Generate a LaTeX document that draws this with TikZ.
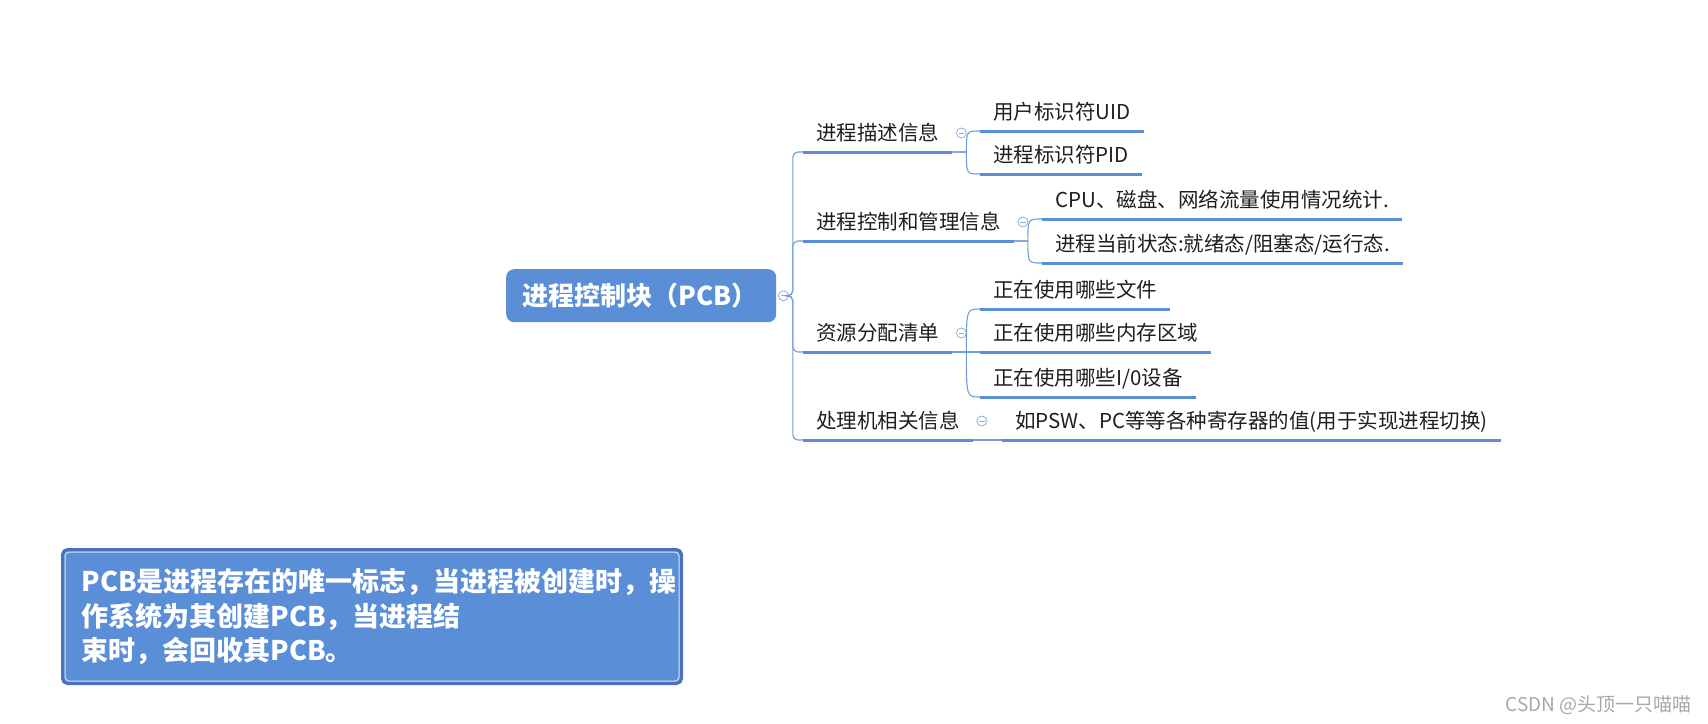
\documentclass[tikz,border=0pt]{standalone}
\usepackage{fontspec}
\setmainfont{Noto Sans CJK SC}
\usepackage{xcolor}
\usepackage{tikz}
\usetikzlibrary{positioning,calc}
\definecolor{MapBlue}{HTML}{5A8ED6}
\definecolor{MapLine}{HTML}{6F9EDB}
\definecolor{MapFold}{HTML}{8CAEDD}
\definecolor{MapText}{HTML}{1E1E1E}
\definecolor{NoteEdge}{HTML}{4A70C2}
\definecolor{NoteRim}{HTML}{D6E3F5}
\definecolor{MarkGray}{HTML}{A8A8A8}
\tikzset{
  rootbox/.style={fill=MapBlue,rounded corners=8pt,text=white,font=\fontsize{26}{30}\selectfont\bfseries,align=left,text width=238pt,inner xsep=16pt,minimum height=53pt,anchor=north west},
  topic/.style={anchor=south west,text=MapText,font=\fontsize{20.5}{24}\selectfont,inner xsep=13pt,inner ysep=6pt,text height=17pt,text depth=5pt},
  fold/.style={circle,draw=MapFold,fill=white,line width=0.8pt,minimum size=10pt,inner sep=0pt,
    path picture={\draw[MapFold,line width=0.8pt] ([xshift=-2.6pt]path picture bounding box.center) -- ([xshift=2.6pt]path picture bounding box.center);}},
  uline/.style={draw=MapBlue,line width=3pt},
  conn/.style={draw=MapLine,line width=1.1pt},
  notebox/.style={anchor=north west,fill=MapBlue,draw=NoteEdge,line width=3pt,rounded corners=5pt,text=white,
    font=\fontsize{27}{34.5}\selectfont\bfseries,align=left,text width=581pt,inner xsep=19pt,minimum height=134pt},
  noterim/.style={draw=NoteRim,line width=1pt,rounded corners=4pt}
}

\begin{document}
\begin{tikzpicture}[x=1pt,y=-1pt]
\useasboundingbox (0,0) rectangle (1708,723);

% root
\node[rootbox] (pcb) at (506,269) {进程控制块（PCB）};
\node[fold] (pcbfold) at ([xshift=7pt]pcb.east) {};

% main topics
\node[topic] (desc) at (803,152) {进程描述信息};
\node[topic] (ctrl) at (803,241) {进程控制和管理信息};
\node[topic] (res)  at (803,352) {资源分配清单};
\node[topic] (proc) at (803,440) {处理机相关信息};
\foreach \b in {desc,ctrl,res,proc}
  \node[fold] (\b fold) at ([xshift=9pt,yshift=19pt]\b.south east) {};

% subtopics
\node[topic] (uid)   at (980,131)  {用户标识符UID};
\node[topic] (pid)   at (980,174)  {进程标识符PID};
\node[topic] (usage) at (1042,219) {CPU、磁盘、网络流量使用情况统计.};
\node[topic] (state) at (1042,263) {进程当前状态:就绪态/阻塞态/运行态.};
\node[topic] (file)  at (980,309)  {正在使用哪些文件};
\node[topic] (mem)   at (980,352)  {正在使用哪些内存区域};
\node[topic] (io)    at (980,397)  {正在使用哪些I/0设备};
\node[topic] (regs)  at (1002,440) {如PSW、PC等等各种寄存器的值(用于实现进程切换)};

% connectors
\foreach \b in {desc,ctrl,res,proc}
  \draw[conn,rounded corners=5pt] (pcbfold.east) -- ++(4pt,0) |- (\b.south west);
\foreach \b/\c in {desc/uid,desc/pid,ctrl/usage,ctrl/state,res/file,res/io}
  \draw[conn] (\b.south east) -- ++(14pt,0) coordinate (j) .. controls (j |- \c.south west) .. (\c.south west);
\draw[conn] (res.south east) -- (mem.south west);
\draw[conn] (proc.south east) -- (regs.south west);

\foreach \n in {desc,ctrl,res,proc,uid,pid,usage,state,file,mem,io,regs}
  \draw[uline] (\n.south west) -- (\n.south east);

% note
\node[notebox] (note) at (61,548) {PCB是进程存在的唯一标志，当进程被创建时，操\\作系统为其创建PCB，当进程结\\束时，会回收其PCB。};
\draw[noterim] ([shift={(4pt,-4pt)}]note.north west) rectangle ([shift={(-4pt,4pt)}]note.south east);

\node[anchor=east,text=MarkGray,font=\fontsize{19}{22}\selectfont,inner sep=0pt] (mark) at (1692,705) {CSDN @头顶一只喵喵};
\end{tikzpicture}
\end{document}
